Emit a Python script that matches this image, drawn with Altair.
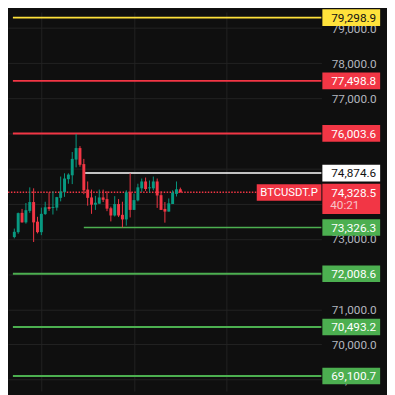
import altair as alt
import pandas as pd

# ---- candle data (15m BTCUSDT.P) ----
candle_index = list(range(44))
opens = [73054, 73193, 73743, 73472, 73799, 74050, 73492, 73193, 73707, 73911, 73883,
         73891, 74170, 74338, 74701, 74812, 75259, 75586, 75131, 74405, 74181, 73975,
         74003, 74181, 74134, 73874, 73668, 73994, 73687, 73556, 74329, 73827, 74098,
         74441, 74636, 74441, 74441, 74636, 74246, 73855, 73779, 73994, 74282, 74413]
highs = [73296, 73751, 73855, 74022, 74469, 74441, 73631, 73891, 74059, 74329, 74357,
         74198, 74776, 74868, 74868, 75474, 75990, 75642, 75279, 74636, 74405, 74226,
         74405, 74405, 74357, 73919, 74218, 74134, 74059, 74385, 74868, 74293, 74572,
         74720, 74748, 74664, 74776, 74720, 74357, 74050, 74153, 74385, 74636, 74461]
lows = [73017, 73148, 73464, 73436, 73743, 72914, 73157, 73109, 73687, 73799, 73696,
        73807, 74070, 74198, 74572, 74561, 75036, 75055, 74274, 73947, 73715, 73827,
        74003, 74050, 73791, 73500, 73640, 73623, 73324, 73380, 73612, 73827, 74070,
        74338, 74366, 74321, 74385, 73883, 73827, 73464, 73779, 73994, 74209, 74321]
closes = [73204, 73735, 73472, 73818, 74050, 73472, 73193, 73715, 73902, 73855, 73911,
          74190, 74349, 74720, 74832, 75279, 75586, 75111, 74385, 74170, 73975, 74031,
          74181, 74114, 73863, 73668, 73994, 73668, 73556, 74329, 73827, 74106, 74469,
          74636, 74421, 74469, 74636, 74237, 73827, 73779, 74014, 74321, 74413, 74328.5]

# ---- horizontal levels ----
level_prices = [79298.9, 77498.8, 76003.6, 74874.6, 73326.3, 72008.6, 70493.2, 69100.7]
level_colors = ["#ffe23b", "#f23645", "#f23645", "#ffffff", "#4caf50", "#4caf50", "#4caf50", "#4caf50"]
level_text_colors = ["#131313", "#ffffff", "#ffffff", "#131313", "#ffffff", "#ffffff", "#ffffff", "#ffffff"]
level_widths = [2, 2, 2, 1.5, 1.5, 2, 2, 2]
level_starts = [None, None, None, 18, 18, None, None, None]  # candle index where line begins

axis_values = list(range(69000, 80000, 1000))
grid_times = [7, 31, 55]
symbol = "BTCUSDT.P"
timer = "40:21"

X_MIN, X_MAX = -0.37, 78.26
Y_MIN, Y_MAX = 68673, 79459
PLOT_W, PLOT_H = 320, 387

GREEN_C, RED_C = "#089981", "#f23645"

df = pd.DataFrame({"i": candle_index, "open": opens, "high": highs, "low": lows, "close": closes})
df["dir"] = ["up" if c >= o else "down" for o, c in zip(opens, closes)]

levels = pd.DataFrame({
    "price": level_prices,
    "label": [f"{p:,.1f}" for p in level_prices],
    "col": level_colors,
    "tcol": level_text_colors,
    "w": level_widths,
    "start": [X_MIN if s is None else s for s in level_starts],
})

cur_price = closes[-1]
cur = pd.DataFrame({"price": [cur_price], "label": [f"{cur_price:,.1f}"], "timer": [timer], "sym": [symbol]})

xs = alt.Scale(domain=[X_MIN, X_MAX], nice=False, zero=False)
ys = alt.Scale(domain=[Y_MIN, Y_MAX], nice=False, zero=False)
x_axis = alt.Axis(values=grid_times, labels=False, ticks=False, domain=False, grid=True, title=None)
y_axis = alt.Axis(values=axis_values, format=",.1f", orient="right", labelAlign="right",
                  labelPadding=56, ticks=False, tickSize=0, domain=False, grid=True,
                  labelOverlap=False, title=None)

def Y(field):
    return alt.Y(field, scale=ys, axis=y_axis)

candle_color = alt.Color("dir:N", scale=alt.Scale(domain=["up", "down"], range=[GREEN_C, RED_C]), legend=None)

level_lines = alt.Chart(levels).mark_rule().encode(
    x=alt.X("start:Q", scale=xs, axis=x_axis),
    x2=alt.value(PLOT_W),
    y=Y("price:Q"),
    stroke=alt.Stroke("col:N", scale=None),
    strokeWidth=alt.StrokeWidth("w:Q", scale=None),
)

dotted = alt.Chart(cur).mark_rule(strokeDash=[1.5, 1.5], strokeWidth=1.5, color=RED_C).encode(
    x=alt.value(0), x2=alt.value(254), y=Y("price:Q"),
)

wicks = alt.Chart(df).mark_rule(strokeWidth=1).encode(
    x=alt.X("i:Q", scale=xs, axis=x_axis),
    y=Y("low:Q"), y2="high:Q", color=candle_color,
)
bodies = alt.Chart(df).mark_bar(size=3).encode(
    x=alt.X("i:Q", scale=xs, axis=x_axis),
    y=Y("open:Q"), y2="close:Q", color=candle_color,
)

level_boxes = alt.Chart(levels).mark_rect(yOffset=-8.5, y2Offset=8.5).encode(
    x=alt.value(321), x2=alt.value(380), y=Y("price:Q"), y2="price:Q",
    color=alt.Color("col:N", scale=None),
)
level_texts = alt.Chart(levels).mark_text(align="right", baseline="middle", fontSize=12,
                                          font="Roboto", dy=0.5).encode(
    x=alt.value(376), y=Y("price:Q"), text="label:N",
    color=alt.Color("tcol:N", scale=None),
)

cur_box = alt.Chart(cur).mark_rect(yOffset=-8.7, y2Offset=22.3, color=RED_C).encode(
    x=alt.value(321), x2=alt.value(380), y=Y("price:Q"), y2="price:Q",
)
cur_text = alt.Chart(cur).mark_text(align="right", baseline="middle", fontSize=12,
                                    font="Roboto", dy=0.5, color="#ffffff").encode(
    x=alt.value(376), y=Y("price:Q"), text="label:N",
)
timer_text = alt.Chart(cur).mark_text(align="left", baseline="middle", fontSize=12,
                                      font="Roboto", dy=13, color="#f9c4c8").encode(
    x=alt.value(329), y=Y("price:Q"), text="timer:N",
)
sym_box = alt.Chart(cur).mark_rect(yOffset=-8.3, y2Offset=8.7, color=RED_C).encode(
    x=alt.value(254), x2=alt.value(320), y=Y("price:Q"), y2="price:Q",
)
sym_text = alt.Chart(cur).mark_text(align="center", baseline="middle", fontSize=11.5,
                                    font="Roboto", dy=0.5, color="#ffffff").encode(
    x=alt.value(287), y=Y("price:Q"), text="sym:N",
)

chart = alt.layer(
    level_lines, dotted, wicks, bodies, level_boxes, level_texts,
    cur_box, cur_text, timer_text, sym_box, sym_text,
).properties(
    width=PLOT_W, height=PLOT_H,
    padding={"left": 0, "top": 0, "right": 67, "bottom": 0},
    autosize=alt.AutoSizeParams(type="none"),
    background="#0f0f0f",
).configure_view(stroke=None).configure_axis(
    labelFont="Roboto", labelFontSize=12, labelColor="#b2b5be",
    gridColor="#232323", gridWidth=1,
)

chart.save("out.html", embed_options={"renderer": "svg", "actions": False})
